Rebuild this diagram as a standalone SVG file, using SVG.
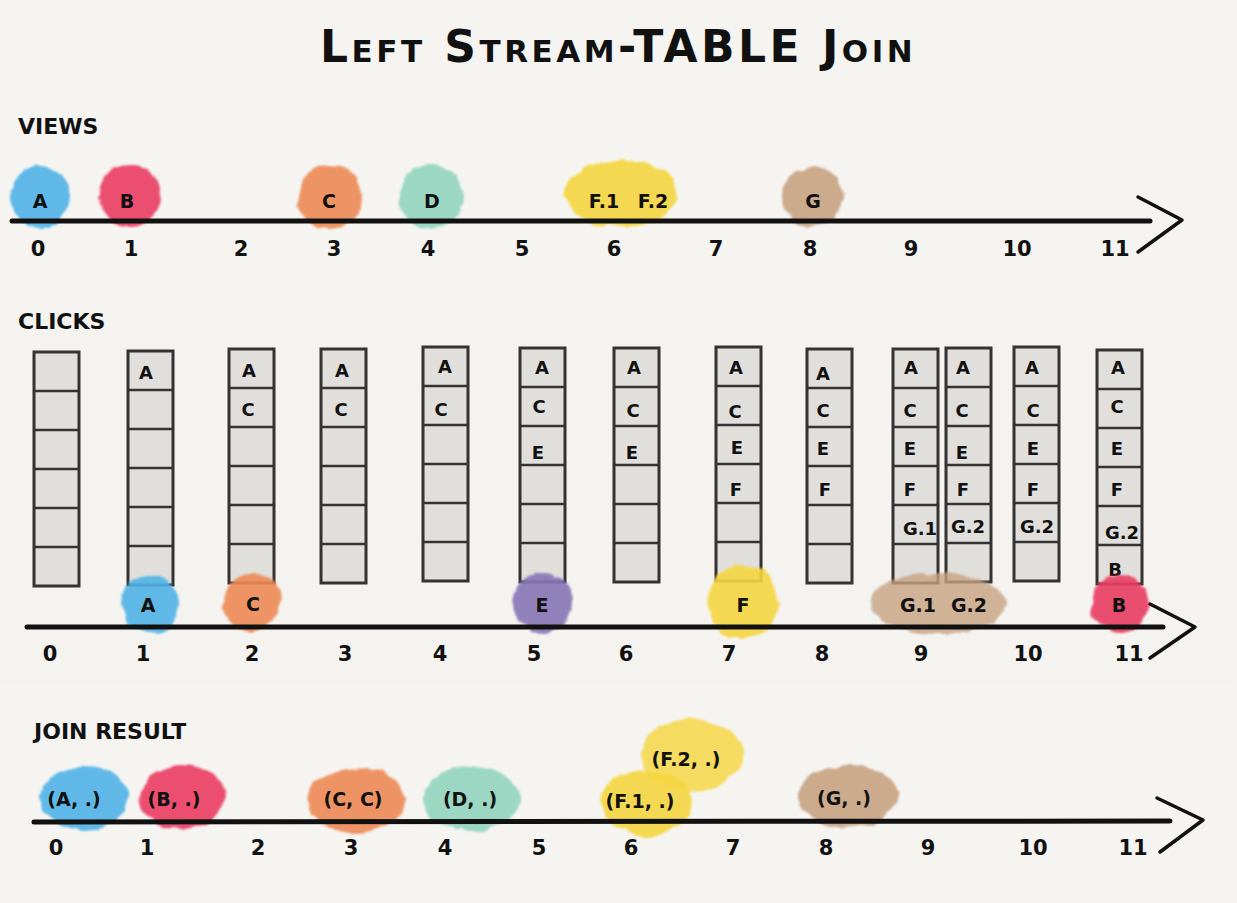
<svg xmlns="http://www.w3.org/2000/svg" xmlns:xlink="http://www.w3.org/1999/xlink" width="1237" height="903" viewBox="0 0 1237 903">
<style>
text{font-family:"DejaVu Sans","Liberation Sans",sans-serif;font-weight:700;fill:#111;}
.title{font-size:44px;font-variant:small-caps;letter-spacing:3.5px;}
.sec{font-size:22px;}
.tick{font-size:21px;text-anchor:middle;}
.lbl{font-size:19px;text-anchor:middle;}
.cell{font-size:18px;text-anchor:middle;}
.axis{stroke:#111;stroke-width:5;stroke-linecap:round;fill:none;}
.head{stroke:#111;stroke-width:3.5;stroke-linecap:round;stroke-linejoin:round;fill:none;}
.blob{filter:url(#rough);opacity:0.9;}
.blue{fill:#4fb2e6;}
.red{fill:#ea3c62;}
.orange{fill:#ee8a55;}
.teal{fill:#92d4be;}
.yellow{fill:#f6d640;}
.tan{fill:#c8a282;}
.purple{fill:#8774b6;}
</style>
<defs>
<filter id="rough" x="-20%" y="-20%" width="140%" height="140%">
<feTurbulence type="fractalNoise" baseFrequency="0.05" numOctaves="3" seed="4" result="n"/>
<feDisplacementMap in="SourceGraphic" in2="n" scale="9" xChannelSelector="R" yChannelSelector="G" result="d"/>
<feGaussianBlur in="d" stdDeviation="0.8"/>
</filter>
<g id="column">
<rect x="0" y="0" width="45" height="234" fill="#e0dfdb" stroke="#333" stroke-width="3"/>
<path d="M0 39H45M0 78H45M0 117H45M0 156H45M0 195H45" stroke="#333" stroke-width="2.5" fill="none"/>
</g>
</defs>
<rect width="1237" height="903" fill="#f5f4f1"/>
<rect x="0" y="290" width="1233" height="395" fill="#f4f3f0"/>

<text class="title" x="320" y="62">Left Stream-TABLE Join</text>
<text class="sec" x="18" y="134">VIEWS</text>
<text class="sec" x="18" y="329">CLICKS</text>
<text class="sec" x="34" y="739">JOIN RESULT</text>

<!-- table columns (clicks state) -->
<g id="col0" class="col"><use xlink:href="#column" x="34" y="352"/></g>
<g id="col1" class="col"><use xlink:href="#column" x="128" y="351"/>
<text class="cell" x="146" y="379">A</text></g>
<g id="col2" class="col"><use xlink:href="#column" x="229" y="349"/>
<text class="cell" x="249" y="377">A</text><text class="cell" x="248" y="416">C</text></g>
<g id="col3" class="col"><use xlink:href="#column" x="321" y="349"/>
<text class="cell" x="342" y="377">A</text><text class="cell" x="341" y="416">C</text></g>
<g id="col4" class="col"><use xlink:href="#column" x="423" y="347"/>
<text class="cell" x="445" y="373">A</text><text class="cell" x="441" y="416">C</text></g>
<g id="col5" class="col"><use xlink:href="#column" x="520" y="348"/>
<text class="cell" x="542" y="374">A</text><text class="cell" x="539" y="413">C</text><text class="cell" x="538" y="459">E</text></g>
<g id="col6" class="col"><use xlink:href="#column" x="614" y="348"/>
<text class="cell" x="634" y="374">A</text><text class="cell" x="633" y="417">C</text><text class="cell" x="632" y="459">E</text></g>
<g id="col7" class="col"><use xlink:href="#column" x="716" y="347"/>
<text class="cell" x="736" y="374">A</text><text class="cell" x="735" y="418">C</text><text class="cell" x="737" y="454">E</text><text class="cell" x="736" y="496">F</text></g>
<g id="col8" class="col"><use xlink:href="#column" x="807" y="349"/>
<text class="cell" x="823" y="380">A</text><text class="cell" x="823" y="417">C</text><text class="cell" x="823" y="455">E</text><text class="cell" x="825" y="496">F</text></g>
<g id="col9a" class="col"><use xlink:href="#column" x="893" y="349"/>
<text class="cell" x="911" y="374">A</text><text class="cell" x="910" y="417">C</text><text class="cell" x="910" y="455">E</text><text class="cell" x="910" y="496">F</text><text class="cell" x="920" y="535">G.1</text></g>
<g id="col9b" class="col"><use xlink:href="#column" x="946" y="348"/>
<text class="cell" x="963" y="374">A</text><text class="cell" x="962" y="417">C</text><text class="cell" x="962" y="459">E</text><text class="cell" x="963" y="496">F</text><text class="cell" x="968" y="533">G.2</text></g>
<g id="col10" class="col"><use xlink:href="#column" x="1014" y="347"/>
<text class="cell" x="1032" y="374">A</text><text class="cell" x="1033" y="417">C</text><text class="cell" x="1033" y="455">E</text><text class="cell" x="1033" y="496">F</text><text class="cell" x="1037" y="533">G.2</text></g>
<g id="col11" class="col"><use xlink:href="#column" x="1097" y="350"/>
<text class="cell" x="1118" y="374">A</text><text class="cell" x="1117" y="413">C</text><text class="cell" x="1117" y="455">E</text><text class="cell" x="1117" y="496">F</text><text class="cell" x="1122" y="539">G.2</text><text class="cell" x="1115" y="576">B</text></g>

<!-- views events -->
<g id="view-A"><circle class="blob blue" cx="40" cy="197" r="30"/><text class="lbl" x="40" y="208">A</text></g>
<g id="view-B"><circle class="blob red" cx="130" cy="196" r="31"/><text class="lbl" x="127" y="208">B</text></g>
<g id="view-C"><circle class="blob orange" cx="330" cy="197" r="32"/><text class="lbl" x="329" y="208">C</text></g>
<g id="view-D"><circle class="blob teal" cx="431" cy="197" r="32"/><text class="lbl" x="432" y="208">D</text></g>
<g id="view-F"><ellipse class="blob yellow" cx="622" cy="194" rx="56" ry="34"/><text class="lbl" x="604" y="208">F.1</text><text class="lbl" x="653" y="208">F.2</text></g>
<g id="view-G"><circle class="blob tan" cx="813" cy="197" r="30"/><text class="lbl" x="813" y="208">G</text></g>

<!-- clicks events -->
<g id="click-A"><circle class="blob blue" cx="150" cy="604" r="29"/><text class="lbl" x="148" y="612">A</text></g>
<g id="click-C"><circle class="blob orange" cx="252" cy="602" r="29"/><text class="lbl" x="253" y="611">C</text></g>
<g id="click-E"><circle class="blob purple" cx="543" cy="603" r="30"/><text class="lbl" x="542" y="612">E</text></g>
<g id="click-F"><circle class="blob yellow" cx="742" cy="602" r="36"/><text class="lbl" x="743" y="612">F</text></g>
<g id="click-G"><ellipse class="blob tan" cx="938" cy="603" rx="68" ry="30" style="opacity:0.8"/><text class="lbl" x="918" y="612">G.1</text><text class="lbl" x="969" y="612">G.2</text></g>
<g id="click-B"><circle class="blob red" cx="1120" cy="604" r="29"/><text class="lbl" x="1119" y="612">B</text></g>

<!-- join results -->
<g id="res-A"><ellipse class="blob blue" cx="84" cy="798" rx="44" ry="32"/><text class="lbl" x="74" y="806">(A, .)</text></g>
<g id="res-B"><ellipse class="blob red" cx="182" cy="797" rx="43" ry="32"/><text class="lbl" x="174" y="806">(B, .)</text></g>
<g id="res-C"><ellipse class="blob orange" cx="357" cy="800" rx="49" ry="33"/><text class="lbl" x="353" y="806">(C, C)</text></g>
<g id="res-D"><ellipse class="blob teal" cx="472" cy="799" rx="49" ry="33"/><text class="lbl" x="470" y="806">(D, .)</text></g>
<g id="res-F1"><ellipse class="blob yellow" cx="647" cy="803" rx="46" ry="33"/><text class="lbl" x="640" y="808">(F.1, .)</text></g>
<g id="res-F2"><ellipse class="blob yellow" cx="692" cy="755" rx="51" ry="36" style="opacity:0.82"/><text class="lbl" x="686" y="766">(F.2, .)</text></g>
<g id="res-G"><ellipse class="blob tan" cx="848" cy="797" rx="50" ry="31"/><text class="lbl" x="844" y="805">(G, .)</text></g>

<!-- timelines -->
<g id="connectors">
<path class="axis" d="M12 221L1150 221"/>
<path class="head" d="M1138 197L1182 220L1138 252"/>
<path class="axis" d="M27 627L1163 627"/>
<path class="head" d="M1150 604L1195 627L1150 658"/>
<path class="axis" d="M34 822L1170 821"/>
<path class="head" d="M1157 798L1203 820L1160 852"/>
</g>

<g id="views-ticks">
<text class="tick" x="38" y="256">0</text><text class="tick" x="131" y="256">1</text><text class="tick" x="241" y="256">2</text><text class="tick" x="334" y="256">3</text><text class="tick" x="428" y="256">4</text><text class="tick" x="522" y="256">5</text><text class="tick" x="614" y="256">6</text><text class="tick" x="716" y="256">7</text><text class="tick" x="810" y="256">8</text><text class="tick" x="911" y="256">9</text><text class="tick" x="1017" y="256">10</text><text class="tick" x="1115" y="256">11</text>
</g>
<g id="clicks-ticks">
<text class="tick" x="50" y="661">0</text><text class="tick" x="143" y="661">1</text><text class="tick" x="252" y="661">2</text><text class="tick" x="345" y="661">3</text><text class="tick" x="440" y="661">4</text><text class="tick" x="534" y="661">5</text><text class="tick" x="626" y="661">6</text><text class="tick" x="729" y="661">7</text><text class="tick" x="822" y="661">8</text><text class="tick" x="921" y="661">9</text><text class="tick" x="1028" y="661">10</text><text class="tick" x="1129" y="661">11</text>
</g>
<g id="join-ticks">
<text class="tick" x="56" y="855">0</text><text class="tick" x="147" y="855">1</text><text class="tick" x="258" y="855">2</text><text class="tick" x="351" y="855">3</text><text class="tick" x="445" y="855">4</text><text class="tick" x="539" y="855">5</text><text class="tick" x="631" y="855">6</text><text class="tick" x="733" y="855">7</text><text class="tick" x="826" y="855">8</text><text class="tick" x="928" y="855">9</text><text class="tick" x="1033" y="855">10</text><text class="tick" x="1133" y="855">11</text>
</g>
</svg>
